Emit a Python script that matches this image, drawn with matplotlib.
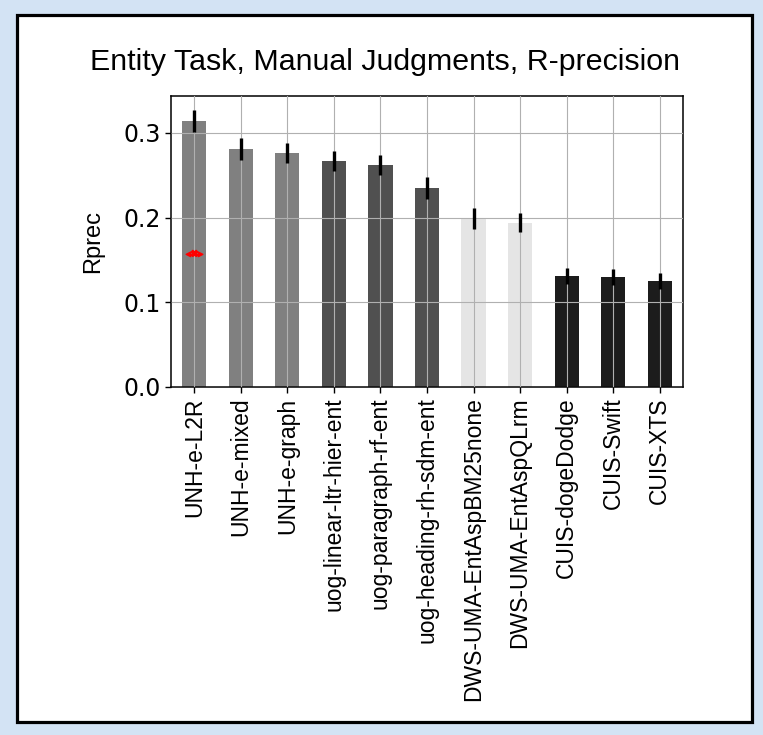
import matplotlib
matplotlib.use("Agg")
import matplotlib.pyplot as plt
from matplotlib.patches import Rectangle

runs = ["UNH-e-L2R", "UNH-e-mixed", "UNH-e-graph", "uog-linear-ltr-hier-ent",
        "uog-paragraph-rf-ent", "uog-heading-rh-sdm-ent", "DWS-UMA-EntAspBM25none",
        "DWS-UMA-EntAspQLrm", "CUIS-dogeDodge", "CUIS-Swift", "CUIS-XTS"]
rprec = [0.314, 0.281, 0.276, 0.267, 0.262, 0.235, 0.199, 0.194, 0.131, 0.130, 0.125]
errors = [0.013, 0.0135, 0.012, 0.012, 0.012, 0.0125, 0.0125, 0.011, 0.009, 0.009, 0.0095]
colors = ["#808080", "#808080", "#808080", "#505050", "#505050", "#505050",
          "#e5e5e5", "#e5e5e5", "#1c1c1c", "#1c1c1c", "#1c1c1c"]
marker_value = 0.158
yticks = [0.0, 0.1, 0.2, 0.3]

W, H = 763, 735
fig = plt.figure(figsize=(W / 100, H / 100), dpi=100)
fig.patch.set_facecolor("#d3e3f4")
fig.patches.append(Rectangle((17 / W, 1 - 722 / H), (752 - 17) / W, (722 - 15) / H,
                             transform=fig.transFigure, facecolor="white",
                             edgecolor="black", linewidth=2.3, zorder=-10))

ax = fig.add_axes([171 / W, 1 - 387 / H, (683 - 171) / W, (387 - 96) / H])
x = list(range(len(runs)))
ax.bar(x, rprec, width=0.52, color=colors, zorder=1)
ax.errorbar(x, rprec, yerr=errors, fmt="none", ecolor="black", elinewidth=2.4,
            capsize=0, zorder=3)
ax.plot([0], [marker_value], marker="$\u25c2\u2716\u25b8$", color="red",
        markersize=12, linestyle="none", zorder=4)
ax.set_xlim(-0.5, len(runs) - 0.5)
ax.set_ylim(0, 0.3436)
ax.grid(True, color="#b0b0b0", linewidth=0.8)
ax.set_axisbelow(False)
ax.set_yticks(yticks)
ax.set_yticklabels([f"{v:.1f}" for v in yticks], fontsize=17, family="DejaVu Sans")
ax.set_xticks(x)
ax.set_xticklabels(runs, rotation=90, fontsize=16.5, family="Liberation Sans")
ax.tick_params(length=4, width=1)
for s in ax.spines.values():
    s.set_linewidth(1.1)
ax.set_ylabel("Rprec", fontsize=17, family="Liberation Sans", labelpad=14)
fig.text(385 / W, 1 - 62 / H, "Entity Task, Manual Judgments, R-precision",
         ha="center", va="center", fontsize=21.9, family="Liberation Sans")

fig.savefig("out.png", dpi=100, facecolor=fig.get_facecolor())
